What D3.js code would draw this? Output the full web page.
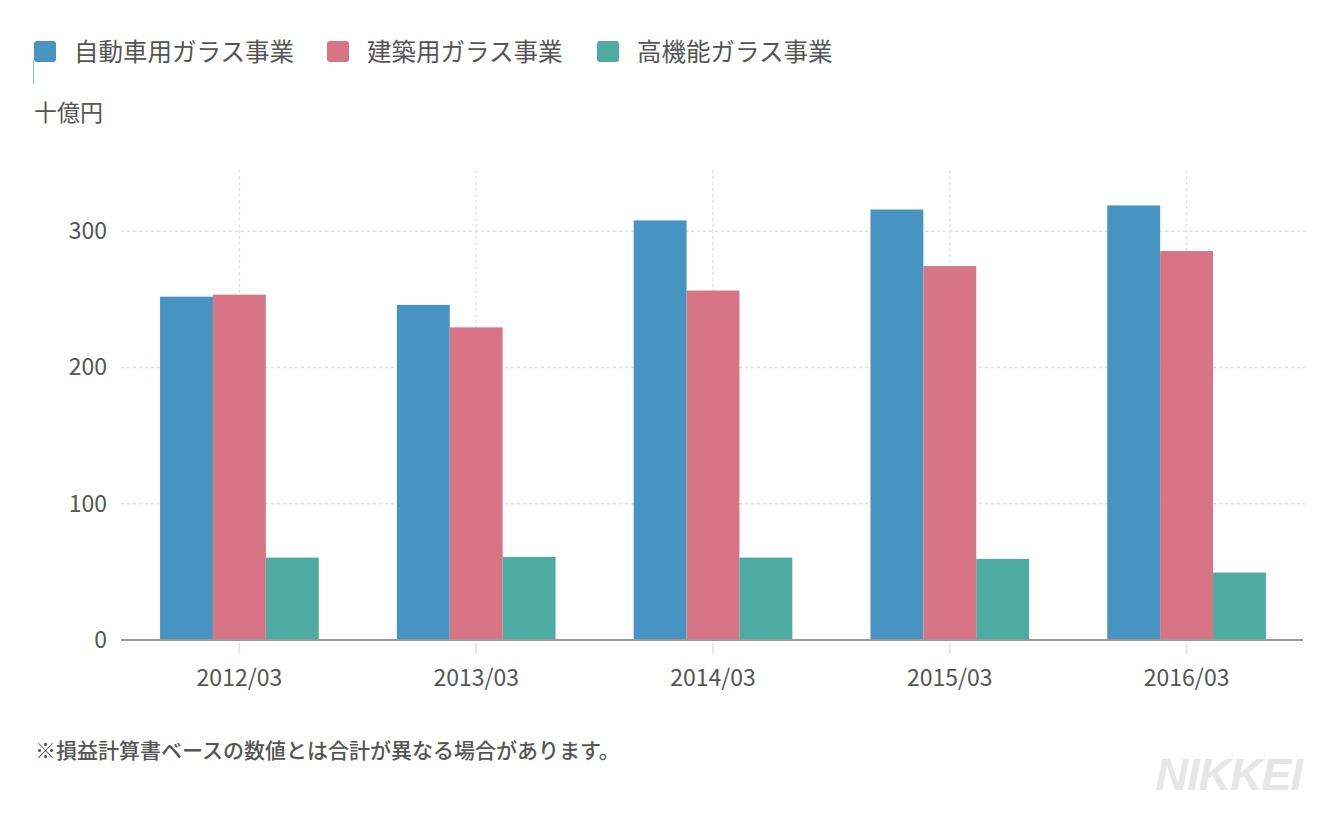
<!DOCTYPE html>
<html>
  <head>
    <meta charset="UTF-8">
    <title>セグメント別売上高</title>
    <script src="https://cdn.jsdelivr.net/npm/d3@7/dist/d3.min.js"></script>
    <style>
      body { margin: 0; background: #fff; }
      text { font-family: "Noto Sans CJK JP", "Noto Sans", sans-serif; }
    </style>
  </head>
  <body>
    <svg width="1336" height="815"></svg>
    <script>
      // データ(十億円)
      var categories = ["2012/03", "2013/03", "2014/03", "2015/03", "2016/03"];
      var seriesNames = ["自動車用ガラス事業", "建築用ガラス事業", "高機能ガラス事業"];
      var autoGlass = [252, 246, 308, 316, 319];
      var buildGlass = [253.5, 229.5, 256.5, 274.5, 285.5];
      var hiGlass = [60.5, 61, 60.5, 59.5, 49.5];
      var yTicks = [0, 100, 200, 300];
      var colors = ["#4793c2", "#d77587", "#4eaba1"];

      var series = [autoGlass, buildGlass, hiGlass];

      var svg = d3.select("svg");
      var marge = {left: 121, right: 31, top: 170, bottom: 175};
      var width = +svg.attr("width");
      var height = +svg.attr("height");

      var xScale = d3.scaleBand()
        .domain(categories)
        .range([marge.left, width - marge.right])
        .paddingInner(0.33)
        .paddingOuter(0.165);
      var xSub = d3.scaleBand()
        .domain(d3.range(series.length))
        .range([0, xScale.bandwidth()]);
      var yScale = d3.scaleLinear()
        .domain([0, 345])
        .range([height - marge.bottom, marge.top]);

      // 横グリッド
      svg.append("g")
        .selectAll("line")
        .data(yTicks.slice(1))
        .enter()
        .append("line")
        .attr("x1", marge.left)
        .attr("x2", width - marge.right)
        .attr("y1", function(d){ return yScale(d); })
        .attr("y2", function(d){ return yScale(d); })
        .attr("stroke", "#dedede")
        .attr("stroke-width", 1.5)
        .attr("stroke-dasharray", "3,3");

      // 縦グリッド
      svg.append("g")
        .selectAll("line")
        .data(categories)
        .enter()
        .append("line")
        .attr("x1", function(d){ return xScale(d) + xScale.bandwidth() / 2; })
        .attr("x2", function(d){ return xScale(d) + xScale.bandwidth() / 2; })
        .attr("y1", marge.top)
        .attr("y2", yScale(0))
        .attr("stroke", "#e2e2e2")
        .attr("stroke-width", 1.5)
        .attr("stroke-dasharray", "3,3");

      // 柱
      var gs = svg.append("g")
        .selectAll("g")
        .data(series)
        .enter()
        .append("g")
        .attr("fill", function(d, i){ return colors[i]; });
      gs.each(function(vals, si){
        d3.select(this).selectAll("rect")
          .data(vals)
          .enter()
          .append("rect")
          .attr("x", function(d, i){ return xScale(categories[i]) + xSub(si); })
          .attr("y", function(d){ return yScale(d); })
          .attr("width", xSub.bandwidth())
          .attr("height", function(d){ return yScale(0) - yScale(d); });
      });

      // x軸
      var xAxis = d3.axisBottom(xScale).tickSize(14).tickPadding(16);
      var gx = svg.append("g")
        .attr("transform", "translate(0," + yScale(0) + ")")
        .call(xAxis);
      gx.select(".domain").remove();
      gx.selectAll(".tick line").attr("stroke", "#e0e0e0").attr("stroke-width", 1.5).attr("y1", 3);
      gx.selectAll(".tick text")
        .attr("fill", "#555")
        .style("font-size", "23px");
      svg.append("line")
        .attr("x1", marge.left)
        .attr("x2", width - marge.right - 2)
        .attr("y1", yScale(0))
        .attr("y2", yScale(0))
        .attr("stroke", "#9a9a9a")
        .attr("stroke-width", 2);

      // y軸
      var yAxis = d3.axisLeft(yScale).tickValues(yTicks).tickSize(0).tickPadding(14);
      var gy = svg.append("g")
        .attr("transform", "translate(" + marge.left + ",0)")
        .call(yAxis);
      gy.select(".domain").remove();
      gy.selectAll(".tick text")
        .attr("fill", "#555")
        .style("font-size", "23px");

      // 単位
      svg.append("text")
        .attr("x", 34)
        .attr("y", 121)
        .attr("fill", "#555")
        .style("font-size", "23px")
        .text("十億円");

      // 凡例
      var legendX = [34, 327, 597];
      var lg = svg.append("g")
        .selectAll("g")
        .data(seriesNames)
        .enter()
        .append("g")
        .attr("transform", function(d, i){ return "translate(" + legendX[i] + ",41)"; });
      lg.append("rect")
        .attr("width", 22)
        .attr("height", 21)
        .attr("rx", 3)
        .attr("fill", function(d, i){ return colors[i]; });
      lg.append("text")
        .attr("x", 40)
        .attr("y", 20)
        .attr("fill", "#555")
        .style("font-size", "24.5px")
        .text(function(d){ return d; });
      svg.append("line")
        .attr("x1", 33.5).attr("x2", 33.5)
        .attr("y1", 60).attr("y2", 84)
        .attr("stroke", "#8fbfe0").attr("stroke-width", 1);

      // 注記
      svg.append("text")
        .attr("x", 35)
        .attr("y", 758)
        .attr("fill", "#555")
        .style("font-size", "21px")
        .style("font-weight", "500")
        .text("※損益計算書ベースの数値とは合計が異なる場合があります。");

      svg.append("text")
        .attr("x", 1302)
        .attr("y", 790)
        .attr("text-anchor", "end")
        .attr("fill", "#e6e6e6")
        .style("font-family", "'Liberation Sans', Arial, sans-serif")
        .style("font-size", "45px")
        .style("font-weight", "bold")
        .style("font-style", "italic")
        .style("letter-spacing", "-1px")
        .text("NIKKEI");
    </script>
  </body>
</html>
